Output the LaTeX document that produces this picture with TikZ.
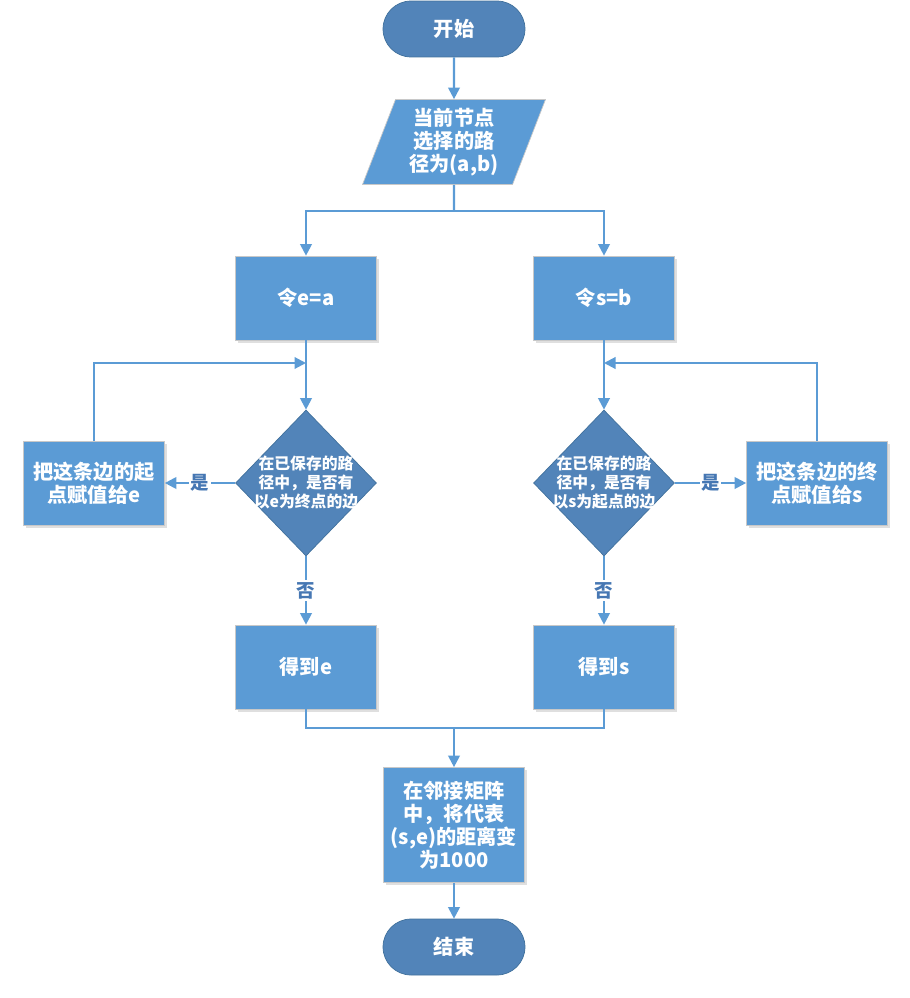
\documentclass[tikz,border=0pt]{standalone}
\usepackage{fontspec}
\setmainfont{Noto Sans CJK SC}
\usetikzlibrary{shapes.geometric,arrows.meta,shadows}

\definecolor{termblue}{HTML}{5284B9}
\definecolor{termline}{HTML}{41719C}
\definecolor{boxblue}{HTML}{5B9BD5}
\definecolor{boxline}{HTML}{C8C8C8}
\definecolor{lineblue}{HTML}{5B9BD5}
\definecolor{labelblue}{HTML}{4677B3}

\begin{document}
\begin{tikzpicture}[x=0.02cm,y=-0.02cm,
    every node/.style={font=\bfseries\fontsize{11.5}{13}\selectfont,text=white,align=center},
    terminal/.style={draw=termline,fill=termblue,rounded corners=0.56cm,
                     minimum width=2.84cm,minimum height=1.12cm},
    process/.style={draw=boxline,fill=boxblue,minimum width=2.82cm,minimum height=1.68cm,
                    drop shadow={shadow xshift=1.5pt,shadow yshift=-1.5pt,opacity=0.25}},
    iobox/.style={trapezium,trapezium left angle=64,trapezium right angle=116,
                  trapezium stretches body,draw=boxline,fill=boxblue,
                  minimum width=3.66cm,minimum height=1.7cm,inner sep=0pt},
    decision/.style={diamond,draw=termline,fill=termblue,inner sep=0pt,
                     minimum width=2.82cm,minimum height=2.92cm},
    dtext/.style={font=\bfseries\fontsize{9}{10.8}\selectfont},
    yesno/.style={fill=white,text=labelblue,inner sep=1pt,
                  font=\bfseries\fontsize{10.5}{12}\selectfont},
    line/.style={draw=lineblue,line width=1.2pt},
    arrow/.style={line,-{Triangle[length=0.23cm,width=0.23cm]}}]

  \useasboundingbox (0,0) rectangle (910,998);

  % start and input
  \node[terminal] (start) at (454,29) {开始};
  \node[iobox] (path) at (454,142) {当前节点\\选择的路\\径为(a,b)};
  \coordinate (split) at (454,211);

  % two branches
  \node[process] (ea) at (306,298) {令e=a};
  \node[process] (sb) at (604,298) {令s=b};

  \node[decision] (de) at (306,483) {};
  \node[dtext] (detext) at (de) {在已保存的路\\径中，是否有\\以e为终点的边};
  \node[decision] (ds) at (604,483) {};
  \node[dtext] (dstext) at (ds) {在已保存的路\\径中，是否有\\以s为起点的边};

  \node[process] (starte) at (94,483) {把这条边的起\\点赋值给e};
  \node[process] (ends) at (817,483) {把这条边的终\\点赋值给s};
  \coordinate (loope) at (306,363);
  \coordinate (loops) at (604,363);

  \node[process] (gete) at (306,667) {得到e};
  \node[process] (gets) at (604,667) {得到s};
  \coordinate (merge) at (454,728);

  % result and end
  \node[process,minimum height=2.3cm] (matrix) at (454,825) {在邻接矩阵\\中，将代表\\(s,e)的距离变\\为1000};
  \node[terminal] (stop) at (454,947) {结束};

  % connectors
  \draw[arrow] (start) -- (path);
  \draw[line] (path) -- (split);
  \draw[arrow] (split) -| (ea);
  \draw[arrow] (split) -| (sb);
  \draw[arrow] (ea) -- (de);
  \draw[arrow] (sb) -- (ds);
  \draw[arrow] (de.west) -- node[yesno] {是} (starte.east);
  \draw[arrow] (ds.east) -- node[yesno] {是} (ends.west);
  \draw[arrow] (starte.north) |- (loope);
  \draw[arrow] (ends.north) |- (loops);
  \draw[arrow] (de.south) -- node[yesno] {否} (gete.north);
  \draw[arrow] (ds.south) -- node[yesno] {否} (gets.north);
  \draw[line] (gete.south) |- (merge);
  \draw[line] (gets.south) |- (merge);
  \draw[arrow] (merge) -- (matrix);
  \draw[arrow] (matrix) -- (stop);
\end{tikzpicture}
\end{document}
